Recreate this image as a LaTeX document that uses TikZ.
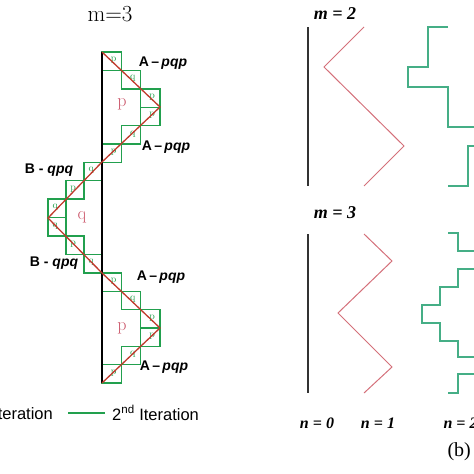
\documentclass[tikz,border=0pt]{standalone}
\usepackage{fontspec}
\newfontfamily\labelfont{Liberation Sans}
\newfontfamily\tnrfont{Liberation Serif}
\definecolor{redA}{HTML}{C0392B}
\definecolor{roseA}{HTML}{CC5B6E}
\definecolor{greenA}{HTML}{22A04E}
\definecolor{redB}{HTML}{D4707A}
\definecolor{greenB}{HTML}{45AE86}
\definecolor{greyB}{HTML}{333333}
\tikzset{
  firstit/.style={redA, line width=1.3pt},
  secondit/.style={greenA, line width=1.5pt},
  axisline/.style={black, line width=2.6pt},
  seqlabel/.style={font=\labelfont\bfseries\fontsize{14}{16}\selectfont, inner sep=0pt},
  cellletter/.style={greenA, font=\fontsize{10}{10}\selectfont, inner sep=0pt},
  trilabel/.style={roseA, font=\fontsize{18}{18}\selectfont},
  mlabel/.style={font=\tnrfont\bfseries\itshape\fontsize{18}{20}\selectfont},
  nlabel/.style={font=\tnrfont\bfseries\itshape\fontsize{16}{18}\selectfont},
  firstB/.style={redB, line width=1pt},
  secondB/.style={greenB, line width=1.3pt},
  axisB/.style={greyB, line width=1.3pt}
}
\begin{document}
\begin{tikzpicture}[x=1pt, y=-1pt]
  \useasboundingbox (0,0) rectangle (474,474);
  % (a) m=3, first and second iteration
  \node (titleA) at (110,14) {\fontsize{23}{25}\selectfont m=3};
  \draw
    (102,52) coordinate (t0)
    (160,107) coordinate (t1)
    (102,162) coordinate (t2)
    (48,218) coordinate (t3)
    (102,273) coordinate (t4)
    (160,328) coordinate (t5)
    (102,383) coordinate (t6);
  \begin{scope}[shift={(102,52)}, x=19.3pt, y=-18.4pt]
    \draw[secondit] (0,0) -- (1,0) -- (1,2) -- (3,2) -- (3,3);
    \draw[secondit] (3,3) -- (3,4) -- (1,4) -- (1,6) -- (0,6);
    \draw[secondit] (0,12) -- (1,12) -- (1,14) -- (3,14) -- (3,15);
    \draw[secondit] (3,15) -- (3,16) -- (1,16) -- (1,18) -- (0,18);
    \foreach \i/\j/\l in {0/0/p,1/1/q,2/2/p,2/3/p,1/4/q,0/5/p,
                          0/12/p,1/13/q,2/14/p,2/15/p,1/16/q,0/17/p} {
      \draw[secondit, line width=1.1pt] (\i,\j) rectangle ++(1,1);
      \node[cellletter] at (\i+0.6,\j+0.45) {\l};
    }
  \end{scope}
  \begin{scope}[shift={(102,52)}, x=18pt, y=-18.4pt]
    \draw[secondit] (0,6) -- (-1,6) -- (-1,8) -- (-3,8) -- (-3,9);
    \draw[secondit] (-3,9) -- (-3,10) -- (-1,10) -- (-1,12) -- (0,12);
    \foreach \i/\j/\l in {-1/6/q,-2/7/p,-3/8/q,-3/9/q,-2/10/p,-1/11/q} {
      \draw[secondit, line width=1.1pt] (\i,\j) rectangle ++(1,1);
      \node[cellletter] at (\i+0.4,\j+0.45) {\l};
    }
  \end{scope}
  \draw[axisline] (t0) -- (t6);
  \draw[firstit] (t0) -- (t1) -- (t2) -- (t3) -- (t4) -- (t5) -- (t6);
  \node[trilabel] (p1) at (122,104) {p};
  \node[trilabel] (q1) at (82,217) {q};
  \node[trilabel] (p2) at (122,328) {p};
  \node[seqlabel] (a1) at (163,63) {A\,–\,\textit{pqp}};
  \node[seqlabel] (a2) at (166,147) {A\,–\,\textit{pqp}};
  \node[seqlabel] (b1) at (49,170) {B - \textit{qpq}};
  \node[seqlabel] (b2) at (54,263) {B - \textit{qpq}};
  \node[seqlabel] (a3) at (161,277) {A\,–\,\textit{pqp}};
  \node[seqlabel] (a4) at (164,367) {A\,–\,\textit{pqp}};
  % legend
  \coordinate (l1a) at (-60,413);
  \coordinate (l1b) at (-25,413);
  \coordinate (l2a) at (68,413);
  \coordinate (l2b) at (105,413);
  \draw[firstit, line width=2.6pt] (l1a) -- (l1b);
  \draw[secondit, line width=2.6pt] (l2a) -- (l2b);
  \node[anchor=east, inner sep=0pt, font=\labelfont\fontsize{16.5}{18}\selectfont]
    (leg1) at (53,413) {1\textsuperscript{st} Iteration};
  \node[anchor=west, inner sep=0pt, font=\labelfont\fontsize{16.5}{18}\selectfont]
    (leg2) at (112,413) {2\textsuperscript{nd} Iteration};
  % (b) m=2 and m=3, n=0,1,2
  \node[mlabel] (m2) at (335,14) {m = 2};
  \draw[axisB] (308,27) -- (308,186);
  \draw[firstB] (364,27) -- (324,67) -- (404,146) -- (364,186);
  \draw[secondB] (448,27) -- (428,27) -- (428,67) -- (408,67) -- (408,87)
    -- (448,87) -- (448,127) -- (488,127) -- (488,146) -- (468,146)
    -- (468,186) -- (448,186);
  \node[mlabel] (m3) at (335,213) {m = 3};
  \draw[axisB] (308,234) -- (308,393);
  \draw[firstB] (364,234) -- (392,261) -- (338,313) -- (392,367) -- (364,393);
  \draw[secondB] (448,233) -- (458,233) -- (458,251) -- (480,251) -- (480,269)
    -- (458,269) -- (458,287) -- (440,287) -- (440,305) -- (422,305)
    -- (422,323) -- (440,323) -- (440,341) -- (458,341) -- (458,357)
    -- (480,357) -- (480,374) -- (458,374) -- (458,393) -- (448,393);
  \node[nlabel] (n0) at (317,423) {n = 0};
  \node[nlabel] (n1) at (378,423) {n = 1};
  \node[nlabel, anchor=west] (n2) at (440,423) {n = 2};
  \node[anchor=west, font=\tnrfont\fontsize{20}{22}\selectfont] (capb) at (444,452) {(b)};
\end{tikzpicture}
\end{document}
